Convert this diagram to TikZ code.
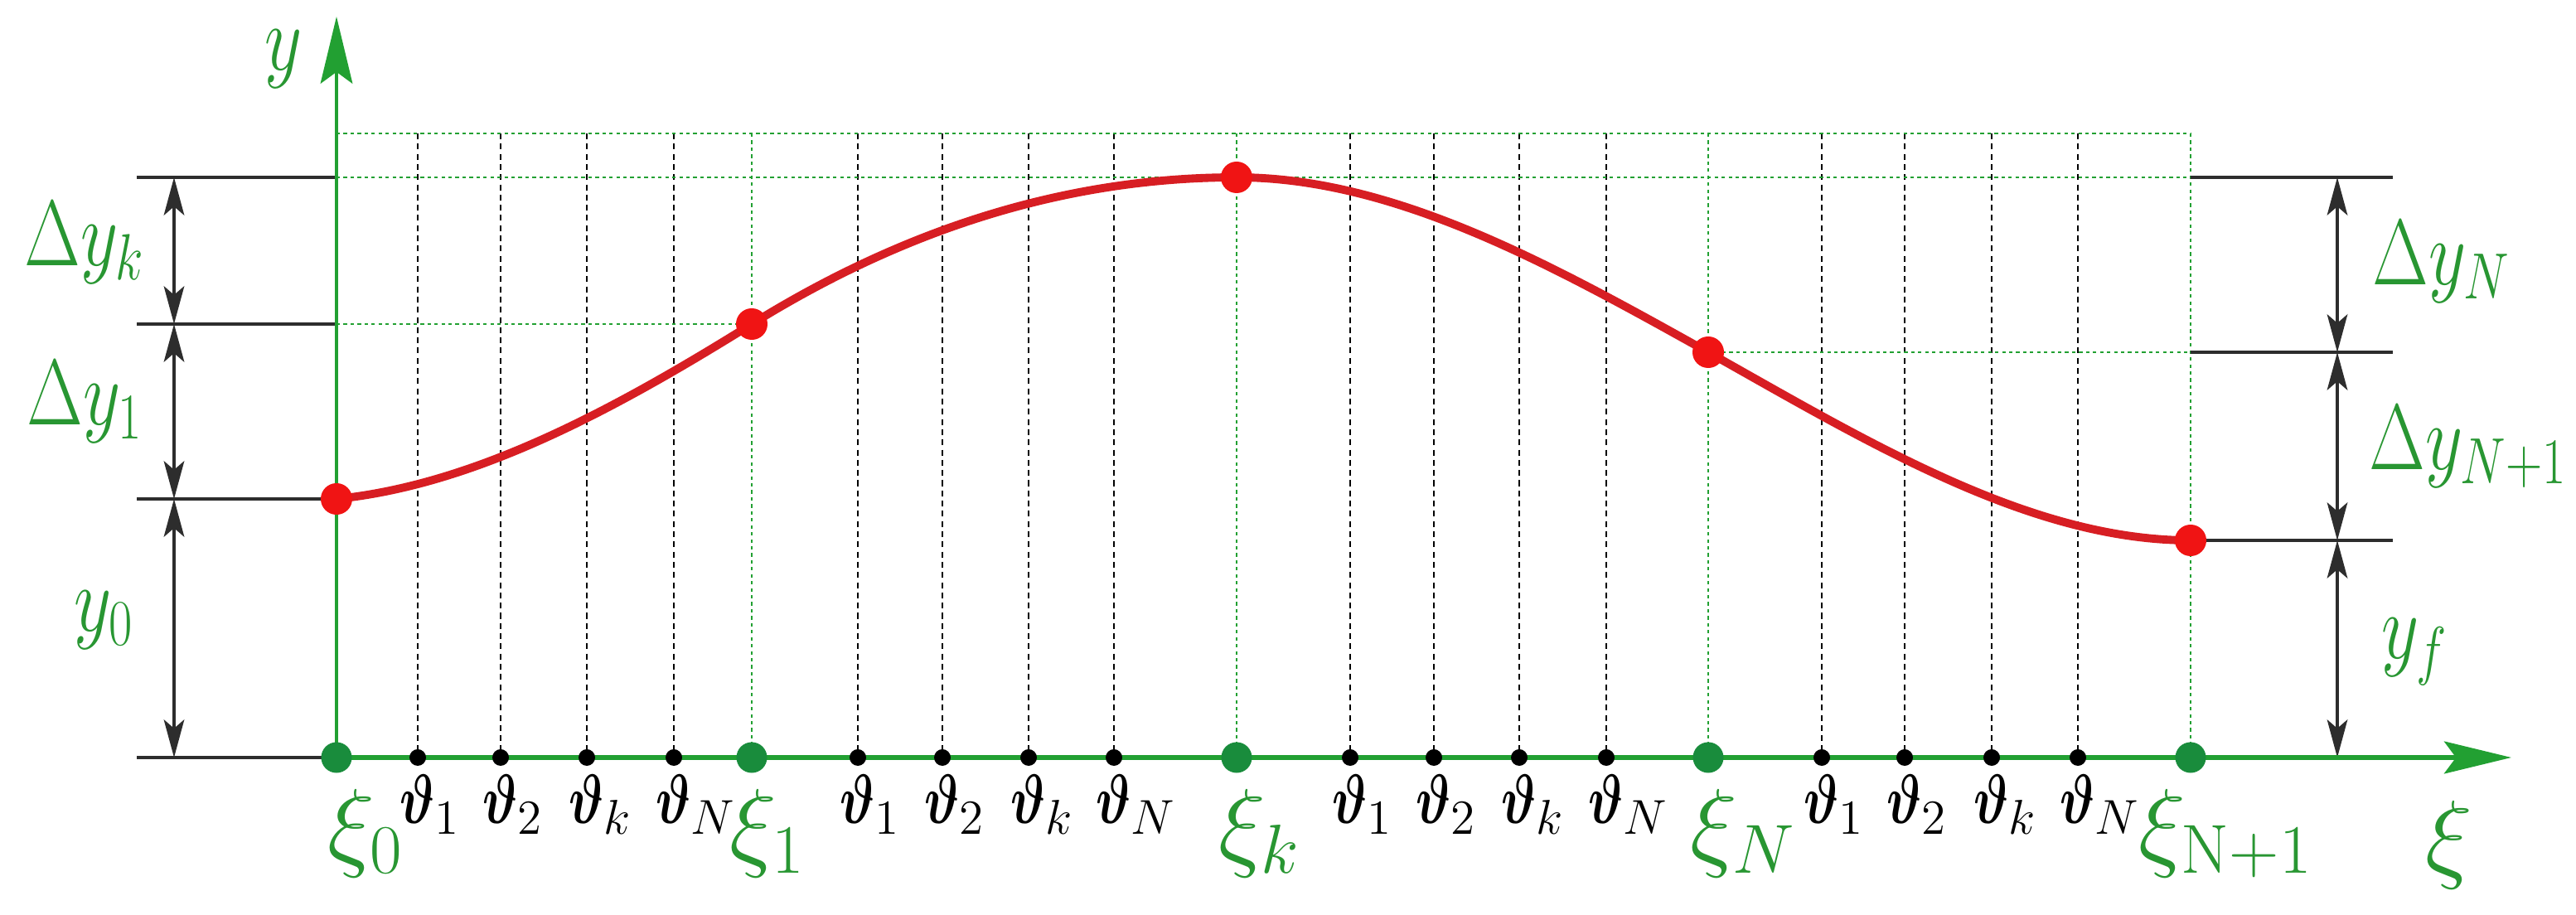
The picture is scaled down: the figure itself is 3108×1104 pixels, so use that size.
\RequirePackage{fix-cm}
\documentclass[tikz,border=0pt]{standalone}
\usepackage{amsmath}
\usepackage{graphicx}
\usetikzlibrary{arrows.meta}
\definecolor{gA}{RGB}{34,160,50}
\definecolor{gL}{RGB}{40,150,50}
\definecolor{gP}{RGB}{25,140,60}
\definecolor{rC}{RGB}{215,30,35}
\definecolor{rP}{RGB}{240,20,20}
\definecolor{dk}{RGB}{45,45,45}
\newcommand{\nx}[1]{\scalebox{0.78}[1]{#1}}
\newcommand{\tx}[1]{\scalebox{0.72}[1]{$\boldsymbol{\vartheta}$}$_{#1}$}
\begin{document}
\begin{tikzpicture}[x=0.01cm,y=-0.01cm,
  reddot/.style={circle,fill=rP,inner sep=0pt,minimum size=0.38cm},
  greendot/.style={circle,fill=gP,inner sep=0pt,minimum size=0.37cm},
  blackdot/.style={circle,fill=black,inner sep=0pt,minimum size=0.2cm},
  gdot/.style={gA,line width=0.8pt,dash pattern=on 1.2pt off 1.2pt},
  kdash/.style={black,line width=0.6pt,dash pattern=on 2pt off 1.5pt},
  ext/.style={dk,line width=1.4pt},
  dimarrow/.style={dk,line width=1pt,{Stealth[length=13pt,width=7pt,inset=3pt]}-{Stealth[length=13pt,width=7pt,inset=3pt]}},
  axis/.style={gA,-{Stealth[length=23pt,width=11pt,inset=4pt]}},
  lab/.style={text=gL,inner sep=0pt,anchor=base west,font=\fontsize{32}{36}\selectfont},
  xlab/.style={text=gL,inner sep=0pt,anchor=base west,font=\fontsize{34}{38}\selectfont},
  tlab/.style={text=black,inner sep=0pt,anchor=base west,font=\fontsize{24}{28}\selectfont}]
\useasboundingbox (0,0) rectangle (3108,1104);

% key coordinates
\coordinate (O) at (406,914);
\coordinate (Ytip) at (406,20);
\coordinate (Xtip) at (3030,914);

% black dashed verticals
\foreach \x [count=\i] in {504,604,708,813,1035,1137,1241,1344,1629,1730,1833,1938,2198,2298,2403,2507}{
  \coordinate (tt\i) at (\x,161);
  \coordinate (t\i) at (\x,914);
  \draw[kdash] (tt\i) -- (t\i);
}
% green dotted verticals
\foreach \x/\n in {907/1,1492/k,2061/N,2643/M}{
  \coordinate (gt\n) at (\x,161);
  \coordinate (gb\n) at (\x,914);
  \draw[gdot] (gt\n) -- (gb\n);
}
% green dotted horizontals
\coordinate (h1a) at (406,161); \coordinate (h1b) at (2643,161);
\coordinate (h2a) at (406,214); \coordinate (h2b) at (2643,214);
\coordinate (h3a) at (406,391); \coordinate (h3b) at (907,391);
\coordinate (h4a) at (2061,425); \coordinate (h4b) at (2643,425);
\draw[gdot] (h1a) -- (h1b);
\draw[gdot] (h2a) -- (h2b);
\draw[gdot] (h3a) -- (h3b);
\draw[gdot] (h4a) -- (h4b);

% extension lines
\coordinate (L1) at (165,214); \coordinate (L2) at (165,391);
\coordinate (L3) at (165,602); \coordinate (L4) at (165,914);
\coordinate (R1) at (2887,214); \coordinate (R2) at (2887,425);
\coordinate (R3) at (2887,652);
\coordinate (R3a) at (2643,652);
\coordinate (L3a) at (406,602);
\draw[ext] (L1) -- (h2a);
\draw[ext] (L2) -- (h3a);
\draw[ext] (L3) -- (L3a);
\draw[ext] (L4) -- (O);
\draw[ext] (h2b) -- (R1);
\draw[ext] (h4b) -- (R2);
\draw[ext] (R3a) -- (R3);

% dimension arrows
\coordinate (dl1) at (210,214); \coordinate (dl2) at (210,391);
\coordinate (dl3) at (210,602); \coordinate (dl4) at (210,914);
\coordinate (dr1) at (2820,214); \coordinate (dr2) at (2820,425);
\coordinate (dr3) at (2820,652); \coordinate (dr4) at (2820,914);
\draw[dimarrow] (dl1) -- (dl2);
\draw[dimarrow] (dl2) -- (dl3);
\draw[dimarrow] (dl3) -- (dl4);
\draw[dimarrow] (dr1) -- (dr2);
\draw[dimarrow] (dr2) -- (dr3);
\draw[dimarrow] (dr3) -- (dr4);

% axes
\draw[axis,line width=1.8pt] (O) -- (Xtip);
\draw[axis,line width=0.9pt] (O) -- (Ytip);

% curve through the nodes
\coordinate (c0) at (406,602);
\coordinate (c1) at (907,391);
\coordinate (ck) at (1492,214);
\coordinate (cN) at (2061,425);
\coordinate (cM) at (2643,652);
\draw[rC,line width=2.8pt,line cap=round]
  (c0) .. controls (573,585) and (740,495) .. (c1)
       .. controls (1102,270) and (1297,214) .. (ck)
       .. controls (1682,214) and (1871,319) .. (cN)
       .. controls (2255,534) and (2449,652) .. (cM);

% dots
\foreach \x/\n in {406/0,907/1,1492/k,2061/N,2643/M}{
  \node[greendot] (xi\n) at (\x,914) {};
}
\foreach \t in {1,...,16}{ \node[blackdot] (bd\t) at (t\t) {}; }
\node[reddot] (p0) at (c0) {};
\node[reddot] (p1) at (c1) {};
\node[reddot] (pk) at (ck) {};
\node[reddot] (pN) at (cN) {};
\node[reddot] (pM) at (cM) {};

% labels
\node[lab] (ly) at (319,85) {\nx{$y$}};
\node[lab] (ldyk) at (29,321) {\nx{$\Delta y_k$}};
\node[lab] (ldy1) at (32,513) {\nx{$\Delta y_1$}};
\node[lab] (ly0) at (89,762) {\nx{$y_0$}};
\node[lab] (ldyN) at (2862,344) {\nx{$\Delta y_N$}};
\node[lab] (ldyM) at (2858,567) {\nx{$\Delta y_{N+1}$}};
\node[lab] (lyf) at (2873,795) {\nx{$y_f$}};

\node[xlab] (lxi0) at (395,1036) {$\xi_0$};
\node[xlab] (lxi1) at (880,1036) {$\xi_1$};
\node[xlab] (lxik) at (1470,1036) {$\xi_k$};
\node[xlab] (lxiN) at (2039,1036) {$\xi_N$};
\node[xlab] (lxiM) at (2580,1036) {$\xi_{\mathrm{N+1}}$};
\node[xlab] (lxi) at (2926,1050) {$\xi$};

\foreach \x/\s [count=\i] in {504/1,604/2,708/k,813/N,1035/1,1137/2,1241/k,1344/N,1629/1,1730/2,1833/k,1938/N,2198/1,2298/2,2403/k,2507/N}{
  \node[tlab] (lt\i) at (\x-22,994) {\tx{\s}};
}
\end{tikzpicture}
\end{document}
